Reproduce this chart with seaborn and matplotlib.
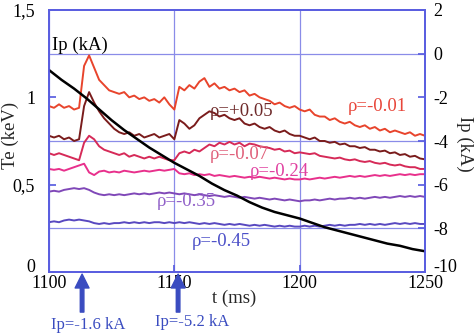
import numpy as np
import matplotlib
matplotlib.use("Agg")
import matplotlib.pyplot as plt
import seaborn as sns

# ---------------- data ----------------
t_ms = np.arange(1100, 1251, 2)

te_rho_m001 = [0.95, 0.94, 0.96, 0.94, 0.95, 0.93, 0.94, 1.18, 1.24, 1.17,
               1.10, 1.07, 1.04, 1.03, 1.02, 1.03, 1.00, 1.01, 0.99, 1.00,
               0.98, 0.99, 0.97, 1.00, 0.96, 0.93,
               1.06, 1.04, 1.07, 1.05, 1.09, 1.11, 1.06, 1.08, 1.05, 1.06,
               1.04, 1.05, 1.03, 1.04, 1.01, 1.02, 1.00, 0.99, 0.98, 0.96,
               0.97, 0.95, 0.94, 0.95, 0.93, 0.92, 0.93, 0.90, 0.89, 0.89,
               0.87, 0.88, 0.86, 0.85, 0.86, 0.84, 0.83, 0.84, 0.82, 0.83,
               0.81, 0.82, 0.80, 0.81, 0.80, 0.79, 0.80, 0.78, 0.79, 0.78]

te_rho_p005 = [0.78, 0.77, 0.78, 0.76, 0.77, 0.75, 0.76, 0.95, 1.03, 0.97,
               0.92, 0.88, 0.85, 0.82, 0.80, 0.79, 0.80, 0.78, 0.79, 0.77,
               0.78, 0.79, 0.77, 0.78, 0.79, 0.76,
               0.87, 0.85, 0.82, 0.84, 0.88, 0.90, 0.92, 0.91, 0.89, 0.90,
               0.88, 0.87, 0.88, 0.85, 0.84, 0.85, 0.83, 0.82, 0.83, 0.81,
               0.80, 0.81, 0.79, 0.78, 0.78, 0.77, 0.76, 0.77, 0.75, 0.75,
               0.74, 0.745, 0.73, 0.735, 0.72, 0.72, 0.71, 0.715, 0.70, 0.70,
               0.69, 0.695, 0.68, 0.685, 0.67, 0.675, 0.66, 0.665, 0.65, 0.645]

te_rho_m007 = [0.68, 0.67, 0.68, 0.67, 0.66, 0.65, 0.64, 0.74, 0.78, 0.76,
               0.72, 0.70, 0.69, 0.68, 0.67, 0.68, 0.66, 0.67, 0.66, 0.65,
               0.66, 0.65, 0.66, 0.65, 0.64, 0.64,
               0.68, 0.69, 0.68, 0.70, 0.69, 0.71, 0.73, 0.72, 0.74, 0.73,
               0.745, 0.73, 0.74, 0.72, 0.735, 0.73, 0.72, 0.715, 0.71, 0.70,
               0.705, 0.69, 0.695, 0.68, 0.685, 0.68, 0.675, 0.68, 0.665, 0.66,
               0.655, 0.65, 0.655, 0.645, 0.64, 0.645, 0.635, 0.63, 0.635, 0.625,
               0.62, 0.625, 0.615, 0.61, 0.615, 0.605, 0.60, 0.60, 0.59, 0.59]

te_rho_m024 = [0.59, 0.585, 0.59, 0.58, 0.59, 0.60, 0.61, 0.62, 0.57, 0.555,
               0.575, 0.58, 0.57, 0.575, 0.57, 0.58, 0.575, 0.57, 0.575, 0.58,
               0.575, 0.58, 0.585, 0.58, 0.585, 0.59,
               0.565, 0.56, 0.565, 0.555, 0.56, 0.555, 0.56, 0.55, 0.555, 0.55,
               0.545, 0.55, 0.545, 0.54, 0.545, 0.54, 0.545, 0.54, 0.535, 0.54,
               0.535, 0.53, 0.535, 0.53, 0.53, 0.535, 0.53, 0.535, 0.54, 0.535,
               0.54, 0.545, 0.54, 0.545, 0.55, 0.545, 0.55, 0.545, 0.55, 0.555,
               0.55, 0.555, 0.55, 0.555, 0.56, 0.555, 0.56, 0.555, 0.56, 0.56]

te_rho_m035 = [0.46, 0.465, 0.46, 0.47, 0.475, 0.48, 0.475, 0.48, 0.47, 0.455,
               0.445, 0.44, 0.445, 0.44, 0.445, 0.44, 0.445, 0.45, 0.445, 0.45,
               0.445, 0.45, 0.455, 0.45, 0.455, 0.45,
               0.445, 0.45, 0.445, 0.44, 0.445, 0.44, 0.435, 0.44, 0.435, 0.43,
               0.435, 0.43, 0.425, 0.43, 0.425, 0.42, 0.425, 0.42, 0.415, 0.42,
               0.415, 0.41, 0.415, 0.41, 0.405, 0.41, 0.41, 0.415, 0.41, 0.415,
               0.42, 0.415, 0.42, 0.42, 0.425, 0.42, 0.425, 0.42, 0.425, 0.43,
               0.425, 0.43, 0.425, 0.43, 0.435, 0.43, 0.435, 0.43, 0.435, 0.43]

te_rho_m045 = [0.285, 0.29, 0.285, 0.295, 0.30, 0.295, 0.30, 0.295, 0.29, 0.28,
               0.275, 0.28, 0.275, 0.28, 0.28, 0.285, 0.28, 0.285, 0.28, 0.285,
               0.28, 0.285, 0.285, 0.28, 0.285, 0.28,
               0.285, 0.28, 0.285, 0.28, 0.275, 0.28, 0.275, 0.28, 0.275, 0.27,
               0.275, 0.27, 0.275, 0.27, 0.265, 0.27, 0.265, 0.27, 0.265, 0.26,
               0.265, 0.26, 0.265, 0.26, 0.26, 0.265, 0.26, 0.265, 0.26, 0.265,
               0.27, 0.265, 0.27, 0.265, 0.27, 0.27, 0.275, 0.27, 0.275, 0.27,
               0.275, 0.27, 0.275, 0.28, 0.275, 0.28, 0.275, 0.28, 0.275, 0.275]

ip_t_ms = np.arange(1100, 1251, 5)
ip_ka = [-0.75, -1.2, -1.6, -2.05, -2.55, -3.05, -3.5, -3.9, -4.3, -4.65, -5.0,
         -5.3, -5.6, -5.95, -6.25, -6.5, -6.8, -7.05, -7.25, -7.4, -7.55,
         -7.75, -7.95, -8.1, -8.25, -8.4, -8.55, -8.7, -8.8, -8.95, -9.05]

rho_labels = ["ρ=-0.01", "ρ=+0.05", "ρ=-0.07", "ρ=-0.24", "ρ=-0.35", "ρ=-0.45"]
arrow_times = [1113.2, 1151.5]
arrow_labels = ["Ip=-1.6 kA", "Ip=-5.2 kA"]

x_ticks = [1100, 1150, 1200, 1250]
te_ticks = [0, 0.5, 1, 1.5]
te_tick_labels = ["0", "0,5", "1", "1,5"]
ip_ticks = [-10, -8, -6, -4, -2, 0, 2]
ip_tick_labels = ["-10", "-8", "-6", "-4", "-2", "0", "2"]

# ---------------- style ----------------
sns.set_theme(style="white")
plt.rcParams["font.family"] = ["Liberation Serif", "DejaVu Serif"]
plt.rcParams["axes.unicode_minus"] = False

frame_c = "#5a5ee0"
grid_c = "#8a8ce8"
arrow_c = "#3a4cc0"
line_cols = ["#e8442c", "#7a1c1c", "#d62a58", "#e8308c", "#8048b8", "#5848c0"]
text_cols = ["#e8463a", "#6e2a2a", "#e0607a", "#e040a0", "#9060c8", "#4c50c8"]

fig = plt.figure(figsize=(4.74, 3.35), dpi=100)
ax = fig.add_axes([49 / 474, 1 - 272 / 335, 376 / 474, 262 / 335])
ax2 = ax.twinx()

series = [te_rho_m001, te_rho_p005, te_rho_m007, te_rho_m024, te_rho_m035, te_rho_m045]
for vals, col in zip(series, line_cols):
    sns.lineplot(x=t_ms, y=vals, ax=ax, color=col, linewidth=1.4, legend=False)

sns.lineplot(x=ip_t_ms, y=ip_ka, ax=ax2, color="black", linewidth=1.8, legend=False)

ax.set_xlim(1100, 1250)
ax.set_ylim(0, 1.5)
ax2.set_ylim(-10, 2)

ax.set_xticks(x_ticks)
ax.set_xticklabels([str(v) for v in x_ticks])
ax.set_yticks(te_ticks)
ax.set_yticklabels(te_tick_labels)
ax.set_yticks([0.25, 0.5, 0.75, 1.0, 1.25], minor=True)
ax2.set_yticks(ip_ticks)
ax2.set_yticklabels(ip_tick_labels)

ax.grid(False)
ax2.grid(False)
ax.grid(True, which="minor", axis="y", color=grid_c, linewidth=0.9)
ax.grid(True, which="major", axis="x", color=grid_c, linewidth=0.9)

ax.tick_params(axis="y", which="major", left=True, direction="in", length=5,
               color=frame_c, pad=10, labelsize=13, labelcolor="black")
ax.tick_params(axis="y", which="minor", length=0)
ax.tick_params(axis="x", bottom=True, direction="in", length=5,
               color=frame_c, pad=2, labelsize=13, labelcolor="black")
ax2.tick_params(axis="y", right=True, direction="in", length=5,
                color=frame_c, pad=6, labelsize=13, labelcolor="black")

# bottom-most y labels sit on their tick (above the x tick labels)
ax.get_yticklabels()[0].set_verticalalignment("baseline")
ax2.get_yticklabels()[0].set_verticalalignment("baseline")

for a in (ax, ax2):
    for sp in a.spines.values():
        sp.set_color(frame_c)
        sp.set_linewidth(1.3)

ax.set_xlabel("t (ms)", fontsize=13.5)
ax.xaxis.set_label_coords(0.492, -0.069)
ax.set_ylabel("Te (keV)", fontsize=13.5, ha="center", va="center")
ax.yaxis.set_label_coords(-0.104, 0.523)
ax2.set_ylabel("Ip (kA)", fontsize=13.5, rotation=-90, ha="center", va="center")
ax2.yaxis.set_label_coords(1.106, 0.489)

# in-plot labels
ax.text(1101.2, 1.30, "Ip (kA)", fontsize=13.5, color="black", ha="left", va="center")
label_pos = [(1219, 0.945), (1164.2, 0.92), (1164.2, 0.675),
             (1180, 0.575), (1143, 0.406), (1157, 0.177)]
for lab, (xx, yy), col in zip(rho_labels, label_pos, text_cols):
    ax.text(xx, yy, lab, fontsize=13.5, color=col, ha="left", va="center")

# arrows below the axis
trans = ax.get_xaxis_transform()
label_xy = [(1115.7, -0.202), (1157.0, -0.19)]
for tt, lab, (lx, ly) in zip(arrow_times, arrow_labels, label_xy):
    ax.annotate("", xy=(tt, -0.008), xytext=(tt, -0.153), xycoords=trans,
                textcoords=trans, annotation_clip=False,
                arrowprops=dict(facecolor=arrow_c, edgecolor=arrow_c,
                                width=2.6, headwidth=10, headlength=10, shrink=0))
    ax.text(lx, ly, lab, transform=trans, ha="center", va="center",
            color=arrow_c, fontsize=12, clip_on=False)

fig.savefig("out.png", dpi=100)
